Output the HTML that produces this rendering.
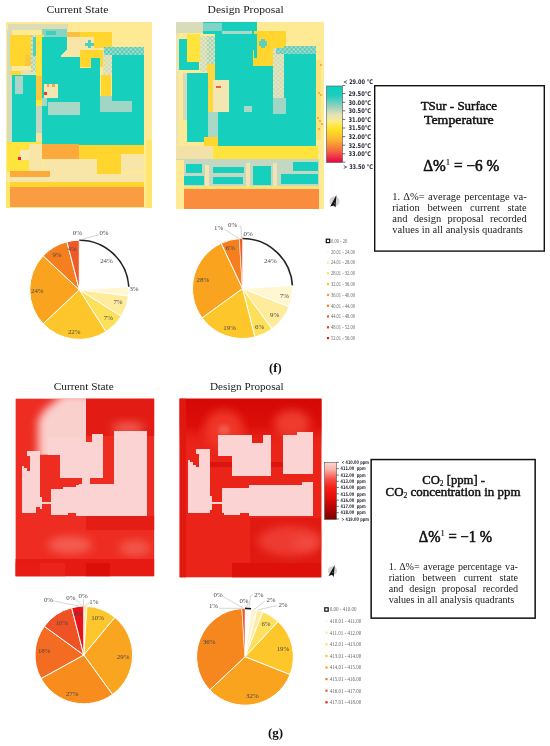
<!DOCTYPE html>
<html><head><meta charset="utf-8"><title>Figure</title><style>
html,body{margin:0;padding:0;background:#fff;}
body{width:550px;height:746px;overflow:hidden;position:relative;}
svg{position:absolute;left:0;top:0;display:block;}
.ttl{font-family:"Liberation Serif",serif;font-size:11px;fill:#1a1a1a;}
.lab{font-family:"Liberation Serif",serif;font-size:12px;font-weight:bold;fill:#111;}
.bt{font-family:"Liberation Serif",serif;font-size:12.6px;font-weight:normal;fill:#111;stroke:#111;stroke-width:0.45px;}
.dl{font-family:"Liberation Serif",serif;font-size:15.8px;font-weight:normal;fill:#111;stroke:#111;stroke-width:0.55px;}
.sup{font-size:9px;font-weight:normal;stroke-width:0.15px;}
.sub{font-size:7.5px;stroke-width:0.15px;}
.fn{position:absolute;font-family:"Liberation Serif",serif;color:#222;white-space:nowrap;}
.fn .j{text-align:justify;text-align-last:justify;white-space:normal;}
.fn .l{text-align:left;}
.cbl{font-family:"DejaVu Sans Condensed","DejaVu Sans",sans-serif;font-size:6.4px;font-weight:bold;fill:#2a2a3a;}
.cbl2{font-family:"DejaVu Sans Condensed","DejaVu Sans",sans-serif;font-size:4.9px;font-weight:bold;fill:#2a2a3a;}
.pl{font-family:"Liberation Serif",serif;font-size:6.9px;fill:#484848;}
.lg{font-family:"Liberation Serif",serif;font-size:5.2px;fill:#666;}
</style></head>
<body>
<svg width="550" height="746" viewBox="0 0 550 746">
<defs><filter id="soft" x="0" y="0" width="100%" height="100%"><feGaussianBlur stdDeviation="0.45"/></filter><pattern id="chkA" patternUnits="userSpaceOnUse" width="4.4" height="4.4"><rect width="4.4" height="4.4" fill="#f2e6b2"/><rect width="2.2" height="2.2" fill="#8fd3c2"/><rect x="2.2" y="2.2" width="2.2" height="2.2" fill="#8fd3c2"/></pattern>
<pattern id="chkB" patternUnits="userSpaceOnUse" width="4.4" height="4.4"><rect width="4.4" height="4.4" fill="#b6d8c6"/><rect width="2.2" height="2.2" fill="#3fcfbe"/><rect x="2.2" y="2.2" width="2.2" height="2.2" fill="#3fcfbe"/></pattern>
<pattern id="chkC" patternUnits="userSpaceOnUse" width="4.4" height="4.4"><rect width="4.4" height="4.4" fill="#f4e7b0"/><rect width="2.2" height="2.2" fill="#c2d9c4"/><rect x="2.2" y="2.2" width="2.2" height="2.2" fill="#c2d9c4"/></pattern><linearGradient id="cb1" x1="0" y1="0" x2="0" y2="1">
<stop offset="0" stop-color="#10cfbd"/><stop offset="0.12" stop-color="#1acdbd"/>
<stop offset="0.26" stop-color="#90d0c0"/><stop offset="0.38" stop-color="#e6e3b6"/>
<stop offset="0.46" stop-color="#fbeb8a"/><stop offset="0.55" stop-color="#ffe626"/>
<stop offset="0.7" stop-color="#fcb630"/><stop offset="0.85" stop-color="#f56840"/>
<stop offset="1" stop-color="#e8004a"/></linearGradient><linearGradient id="cb2" x1="0" y1="0" x2="0" y2="1">
<stop offset="0" stop-color="#fcd6d2"/><stop offset="0.12" stop-color="#fab4ac"/>
<stop offset="0.3" stop-color="#f84a3e"/><stop offset="0.45" stop-color="#f61c14"/>
<stop offset="0.62" stop-color="#e20c08"/><stop offset="0.8" stop-color="#b40404"/><stop offset="1" stop-color="#780000"/></linearGradient><filter id="bl4" x="-50%" y="-50%" width="200%" height="200%"><feGaussianBlur stdDeviation="4"/></filter><filter id="bl6" x="-50%" y="-50%" width="200%" height="200%"><feGaussianBlur stdDeviation="6"/></filter><filter id="bl2" x="-50%" y="-50%" width="200%" height="200%"><feGaussianBlur stdDeviation="2"/></filter><clipPath id="cm3"><rect x="15.4" y="398.4" width="139" height="178"/></clipPath><clipPath id="cm3a"><rect x="15.4" y="398.4" width="70.6" height="56.3"/></clipPath><clipPath id="cm4"><rect x="179.4" y="398.4" width="142.3" height="179.2"/></clipPath><linearGradient id="g4top" x1="0" y1="0" x2="0" y2="1"><stop offset="0" stop-color="#d60806"/><stop offset="0.55" stop-color="#dc0e0a"/><stop offset="1" stop-color="#ea2419" stop-opacity="0"/></linearGradient></defs>
<g filter="url(#soft)"><g shape-rendering="crispEdges"><rect x="6" y="22" width="146" height="186" fill="#feea95"/><rect x="8" y="23.5" width="60" height="6.5" fill="#dedcb4"/><rect x="6.5" y="30" width="5.5" height="115" fill="#d3dcc0"/><rect x="42" y="29" width="25" height="8" fill="#86d4c2"/><rect x="46" y="31" width="10" height="4" fill="#3fcebe"/><rect x="9.5" y="34.5" width="23.5" height="31.5" fill="#ffd52e"/><rect x="25" y="55" width="8" height="11" fill="#fcc640"/><rect x="9.5" y="71" width="11.5" height="3.5" fill="#ffd52e"/><rect x="21" y="70" width="15" height="5" fill="#ece0ac"/><rect x="30.5" y="35" width="5.1" height="37" fill="url(#chkA)"/><rect x="32.5" y="37" width="3.1" height="19" fill="#52cfbe"/><rect x="35.6" y="35" width="8.0" height="71" fill="#ffe43e"/><rect x="35.6" y="76" width="8.0" height="23.5" fill="#fcc63e"/><rect x="36.4" y="106" width="10.1" height="27" fill="#c0d8c2"/><rect x="36.4" y="133" width="10.1" height="10" fill="#f2e2a8"/><polygon points="42.2,37 67,37 67,49 63,53 60,57.3 42.2,57.3" fill="#12cfbd"/><rect x="67" y="31.8" width="45.4" height="4.9" fill="#ffd52e"/><rect x="67" y="31.8" width="13" height="4.9" fill="#fcc040"/><rect x="94.4" y="31.8" width="18.0" height="16.4" fill="#ffd52e"/><polygon points="67,36.7 94.4,36.7 94.4,52.3 79.6,52.3 79.6,57.3 60,57.3 63,53 67,49" fill="#f8e6a8"/><rect x="84.5" y="42.5" width="9.0" height="3.0" fill="#4fcfbd"/><rect x="87.5" y="40" width="3.0" height="8.2" fill="#4fcfbd"/><rect x="79.6" y="50" width="22.9" height="17" fill="#ffd52e"/><rect x="42.2" y="57.3" width="37.4" height="87.7" fill="#12cfbd"/><rect x="79.6" y="67.8" width="11.4" height="77.2" fill="#12cfbd"/><rect x="91" y="58" width="9" height="87" fill="#12cfbd"/><rect x="100" y="101" width="44" height="44" fill="#12cfbd"/><rect x="43.6" y="83.5" width="14.4" height="14.5" fill="#f4e6b0"/><rect x="43.6" y="92.2" width="2.9" height="2.8" fill="#ee3a30"/><rect x="46.5" y="84" width="2.5" height="2.5" fill="#f8a83c"/><rect x="52" y="84" width="2.5" height="2.5" fill="#f8a83c"/><rect x="42.2" y="98" width="4.3" height="8" fill="#a6d6c6"/><rect x="48" y="102" width="32" height="13" fill="#a8d8c8"/><rect x="102.5" y="46.5" width="9.9" height="28.5" fill="url(#chkC)"/><rect x="101" y="75" width="10" height="21" fill="#ffd52e"/><rect x="100" y="96" width="32" height="16" fill="#9fd6c6"/><rect x="104" y="46.5" width="40" height="8.2" fill="url(#chkB)"/><rect x="111.5" y="54.7" width="32.0" height="46.3" fill="#12cfbd"/><rect x="12.4" y="74.7" width="24.0" height="66.8" fill="#12cfbd"/><rect x="14.5" y="76" width="8.5" height="18" fill="#a9d6c6"/><rect x="6.5" y="141.5" width="35.5" height="30.5" fill="#ffe43e"/><rect x="29" y="143.6" width="13" height="28.4" fill="#f8e6a8"/><rect x="20" y="150" width="9" height="10" fill="#f8eab4"/><rect x="18.2" y="156.7" width="2.8" height="2.9" fill="#ee2040"/><rect x="42" y="143.6" width="37" height="15.4" fill="#fbaa3a"/><rect x="79" y="145" width="67" height="15" fill="#ffd52e"/><rect x="121" y="154" width="24" height="17" fill="#f8e6a8"/><rect x="44" y="159" width="53" height="12" fill="#f8e6a8"/><rect x="97" y="160" width="24" height="14" fill="#ffd52e"/><rect x="10" y="171" width="40" height="6" fill="#fbaa3a"/><rect x="50" y="171" width="47" height="6" fill="#f8e6a8"/><rect x="10" y="177" width="140" height="5" fill="#f6e6ae"/><rect x="97" y="174" width="49" height="8" fill="#f8e6a8"/><rect x="10" y="182" width="136.4" height="5" fill="#ffd52e"/><rect x="10" y="187" width="136.4" height="20" fill="#fa9c42"/><rect x="143.5" y="30" width="8.5" height="178" fill="#feea95"/><rect x="146.4" y="140" width="5.6" height="68" fill="#fee66a"/><rect x="6" y="182" width="4" height="26" fill="#fee66a"/></g></g>
<g filter="url(#soft)"><g shape-rendering="crispEdges"><rect x="176" y="22" width="148" height="187" fill="#feea95"/><rect x="176" y="22" width="29" height="11" fill="#d9dcb8"/><rect x="203" y="22" width="54" height="12" fill="#12cfbd"/><rect x="203" y="22.7" width="19" height="8.3" fill="#7fd4c4"/><rect x="222" y="31" width="30" height="4.5" fill="#a8d8c8"/><rect x="215" y="34" width="39" height="112" fill="#12cfbd"/><rect x="179" y="39" width="8" height="27" fill="#12cfbd"/><rect x="179" y="61" width="20" height="9" fill="#12cfbd"/><rect x="187" y="34" width="13" height="28" fill="#ffe43e"/><rect x="200" y="36" width="7" height="36" fill="url(#chkC)"/><rect x="207" y="36" width="8" height="37" fill="url(#chkA)"/><rect x="207" y="64" width="8" height="48" fill="#ffd840"/><rect x="176" y="33" width="3" height="112" fill="#efe3b0"/><rect x="187" y="73" width="21" height="69" fill="#12cfbd"/><rect x="183" y="73" width="4" height="47" fill="#d0dcc0"/><rect x="213" y="80" width="16" height="32" fill="#f4e6b0"/><rect x="216" y="85.5" width="5" height="2.5" fill="#f0603a"/><rect x="208" y="112" width="46" height="34" fill="#12cfbd"/><rect x="208" y="112" width="10" height="26" fill="#a8d8c6"/><rect x="204" y="137" width="14" height="9" fill="#ffd52e"/><rect x="244" y="106" width="8" height="6" fill="#a8d8c6"/><rect x="262" y="106" width="12" height="5" fill="#a8d8c6"/><rect x="257" y="22" width="67" height="9" fill="#feea95"/><rect x="254" y="31" width="32" height="19" fill="#ffd52e"/><rect x="259" y="41" width="8" height="5" fill="#5fcfbd"/><rect x="261" y="39" width="4" height="9" fill="#5fcfbd"/><rect x="253" y="50" width="20" height="16" fill="#ffd52e"/><rect x="254" y="34" width="3" height="24" fill="#12cfbd"/><rect x="253" y="66" width="21" height="80" fill="#12cfbd"/><rect x="273" y="48" width="11" height="50" fill="url(#chkC)"/><rect x="276" y="48" width="8" height="6" fill="url(#chkB)"/><rect x="284" y="46" width="32" height="8" fill="url(#chkB)"/><rect x="284" y="54" width="32" height="92" fill="#12cfbd"/><rect x="273" y="98" width="13" height="16" fill="#9fd6c6"/><rect x="273" y="114" width="11" height="32" fill="#12cfbd"/><rect x="176" y="146" width="37" height="14" fill="#f3e2a8"/><rect x="213" y="146" width="105" height="14" fill="#ffe43e"/><rect x="176" y="159" width="146" height="30" fill="#c3d7c3"/><rect x="205" y="165" width="3.5" height="24" fill="#f4e6b0"/><rect x="246" y="163" width="4" height="26" fill="#f0e4b0"/><rect x="273" y="163" width="4" height="26" fill="#f0e4b0"/><rect x="184" y="186" width="135" height="3" fill="#f8e27a"/><rect x="186" y="164" width="16" height="8.7" fill="#12cfbd"/><rect x="184" y="176" width="20" height="9" fill="#12cfbd"/><rect x="213" y="167" width="31" height="5.7" fill="#12cfbd"/><rect x="213" y="176.8" width="30" height="6.8" fill="#12cfbd"/><rect x="253" y="166" width="18" height="19" fill="#12cfbd"/><rect x="293" y="161.8" width="25" height="9.6" fill="#12cfbd"/><rect x="281" y="174" width="37" height="9.6" fill="#12cfbd"/><rect x="184" y="189" width="135" height="20" fill="#f98c3c"/><rect x="176" y="160" width="8" height="49" fill="#feea95"/><rect x="319" y="30" width="5" height="179" fill="#feea95"/><rect x="316" y="60" width="5" height="80" fill="#fde27a"/><rect x="318" y="92" width="2" height="2" fill="#f8b048"/><rect x="320" y="94" width="2" height="2" fill="#f8b048"/><rect x="317" y="117" width="2" height="2" fill="#f8b048"/><rect x="319" y="120" width="2" height="2" fill="#f8b048"/><rect x="321" y="123" width="2" height="2" fill="#f8b048"/><rect x="318" y="128" width="2" height="2" fill="#f8b048"/><rect x="320" y="64" width="2" height="2" fill="#f8b048"/></g></g>
<rect x="326.5" y="86" width="16" height="76.5" fill="url(#cb1)" stroke="#555" stroke-width="0.6"/>
<rect x="324.5" y="462.5" width="12" height="57" fill="url(#cb2)" stroke="#555" stroke-width="0.6"/>
<g stroke="#333" stroke-width="0.7">
<line x1="342.5" y1="85.5" x2="345.3" y2="85.5"/>
<line x1="342.5" y1="93.6" x2="345.3" y2="93.6"/>
<line x1="342.5" y1="102.3" x2="345.3" y2="102.3"/>
<line x1="342.5" y1="110.8" x2="345.3" y2="110.8"/>
<line x1="342.5" y1="119.4" x2="345.3" y2="119.4"/>
<line x1="342.5" y1="128.0" x2="345.3" y2="128.0"/>
<line x1="342.5" y1="136.6" x2="345.3" y2="136.6"/>
<line x1="342.5" y1="145.2" x2="345.3" y2="145.2"/>
<line x1="342.5" y1="153.8" x2="345.3" y2="153.8"/>
<line x1="342.5" y1="162.2" x2="345.3" y2="162.2"/>
<line x1="336.5" y1="462.3" x2="338.8" y2="462.3"/>
<line x1="336.5" y1="468.7" x2="338.8" y2="468.7"/>
<line x1="336.5" y1="475.1" x2="338.8" y2="475.1"/>
<line x1="336.5" y1="481.3" x2="338.8" y2="481.3"/>
<line x1="336.5" y1="487.5" x2="338.8" y2="487.5"/>
<line x1="336.5" y1="493.8" x2="338.8" y2="493.8"/>
<line x1="336.5" y1="500.1" x2="338.8" y2="500.1"/>
<line x1="336.5" y1="506.4" x2="338.8" y2="506.4"/>
<line x1="336.5" y1="512.7" x2="338.8" y2="512.7"/>
<line x1="336.5" y1="519.0" x2="338.8" y2="519.0"/>
</g>
<text x="343.2" y="83.8" class="cbl" textLength="29.7" lengthAdjust="spacingAndGlyphs">&lt; 29.00 °C</text>
<text x="348.5" y="95.89999999999999" class="cbl" textLength="22.6" lengthAdjust="spacingAndGlyphs">29.50°C</text>
<text x="348.5" y="104.7" class="cbl" textLength="22.6" lengthAdjust="spacingAndGlyphs">30.00°C</text>
<text x="348.5" y="113.1" class="cbl" textLength="22.6" lengthAdjust="spacingAndGlyphs">30.50°C</text>
<text x="348.5" y="121.8" class="cbl" textLength="22.6" lengthAdjust="spacingAndGlyphs">31.00°C</text>
<text x="348.5" y="130.4" class="cbl" textLength="22.6" lengthAdjust="spacingAndGlyphs">31.50°C</text>
<text x="348.5" y="139.0" class="cbl" textLength="22.6" lengthAdjust="spacingAndGlyphs">32.00°C</text>
<text x="348.5" y="147.60000000000002" class="cbl" textLength="22.6" lengthAdjust="spacingAndGlyphs">32.50°C</text>
<text x="348.5" y="156.20000000000002" class="cbl" textLength="22.6" lengthAdjust="spacingAndGlyphs">33.00°C</text>
<text x="343.2" y="168.60000000000002" class="cbl" textLength="29.7" lengthAdjust="spacingAndGlyphs">&gt; 33.50 °C</text>
<text x="341.4" y="463.95" class="cbl2" textLength="27.4" lengthAdjust="spacingAndGlyphs" xml:space="preserve">&lt; 410.00 ppm</text>
<text x="340.6" y="470.45" class="cbl2" textLength="25" lengthAdjust="spacingAndGlyphs" xml:space="preserve">411.00  ppm</text>
<text x="340.6" y="476.85" class="cbl2" textLength="25" lengthAdjust="spacingAndGlyphs" xml:space="preserve">412.00  ppm</text>
<text x="340.6" y="483.05" class="cbl2" textLength="25" lengthAdjust="spacingAndGlyphs" xml:space="preserve">413.00  ppm</text>
<text x="340.6" y="489.25" class="cbl2" textLength="25" lengthAdjust="spacingAndGlyphs" xml:space="preserve">414.00  ppm</text>
<text x="340.6" y="495.55" class="cbl2" textLength="25" lengthAdjust="spacingAndGlyphs" xml:space="preserve">415.00  ppm</text>
<text x="340.6" y="501.85" class="cbl2" textLength="25" lengthAdjust="spacingAndGlyphs" xml:space="preserve">416.00  ppm</text>
<text x="340.6" y="508.15" class="cbl2" textLength="25" lengthAdjust="spacingAndGlyphs" xml:space="preserve">417.00  ppm</text>
<text x="340.6" y="514.45" class="cbl2" textLength="25" lengthAdjust="spacingAndGlyphs" xml:space="preserve">418.00  ppm</text>
<text x="341.4" y="520.95" class="cbl2" textLength="27.4" lengthAdjust="spacingAndGlyphs" xml:space="preserve">&gt; 419.00 ppm</text>
<circle cx="334.5" cy="201.4" r="5.0" fill="#c4c4c4" opacity="0.75"/><polygon points="336.4,195.1 330.2,206.4 333.8,205.4 335.5,207.6" fill="#111"/><circle cx="334.6" cy="203.2" r="0.5" fill="#999"/>
<circle cx="332.5" cy="570.8" r="4.6" fill="#c4c4c4" opacity="0.75"/><polygon points="334.7,564.9 328.5,575.9 332.1,574.8 333.7,577.1" fill="#111"/><circle cx="332.8" cy="572.3" r="0.5" fill="#999"/>
<path d="M79.3,289.8 L79.30,240.20 A49.6,49.6 0 0 1 128.80,286.69 Z" fill="#ffffff" stroke="#fff" stroke-width="1.0"/><path d="M79.3,289.8 L128.80,286.69 A49.6,49.6 0 0 1 128.51,296.02 Z" fill="#fff6d2" stroke="#fff" stroke-width="1.0"/><path d="M79.3,289.8 L128.51,296.02 A49.6,49.6 0 0 1 121.18,316.38 Z" fill="#ffeb9c" stroke="#fff" stroke-width="1.0"/><path d="M79.3,289.8 L121.18,316.38 A49.6,49.6 0 0 1 105.88,331.68 Z" fill="#fde05a" stroke="#fff" stroke-width="1.0"/><path d="M79.3,289.8 L105.88,331.68 A49.6,49.6 0 0 1 43.14,323.75 Z" fill="#fdc62a" stroke="#fff" stroke-width="1.0"/><path d="M79.3,289.8 L43.14,323.75 A49.6,49.6 0 0 1 43.14,255.85 Z" fill="#f9a31e" stroke="#fff" stroke-width="1.0"/><path d="M79.3,289.8 L43.14,255.85 A49.6,49.6 0 0 1 66.96,241.76 Z" fill="#f57f1f" stroke="#fff" stroke-width="1.0"/><path d="M79.3,289.8 L66.96,241.76 A49.6,49.6 0 0 1 79.30,240.20 Z" fill="#f05a26" stroke="#fff" stroke-width="1.0"/>
<path d="M79.30,240.20 A49.6,49.6 0 0 1 128.80,286.69" fill="none" stroke="#222" stroke-width="1.6"/>
<path d="M242.5,288.5 L242.50,238.50 A50,50 0 0 1 292.40,285.36 Z" fill="#ffffff" stroke="#fff" stroke-width="1.0"/><path d="M242.5,288.5 L292.40,285.36 A50,50 0 0 1 288.99,306.91 Z" fill="#fff6d2" stroke="#fff" stroke-width="1.0"/><path d="M242.5,288.5 L288.99,306.91 A50,50 0 0 1 271.89,328.95 Z" fill="#ffeb9c" stroke="#fff" stroke-width="1.0"/><path d="M242.5,288.5 L271.89,328.95 A50,50 0 0 1 254.93,336.93 Z" fill="#fde05a" stroke="#fff" stroke-width="1.0"/><path d="M242.5,288.5 L254.93,336.93 A50,50 0 0 1 202.05,317.89 Z" fill="#fdc62a" stroke="#fff" stroke-width="1.0"/><path d="M242.5,288.5 L202.05,317.89 A50,50 0 0 1 221.21,243.26 Z" fill="#f9a31e" stroke="#fff" stroke-width="1.0"/><path d="M242.5,288.5 L221.21,243.26 A50,50 0 0 1 239.36,238.60 Z" fill="#f57f1f" stroke="#fff" stroke-width="1.0"/><path d="M242.5,288.5 L239.36,238.60 A50,50 0 0 1 242.50,238.50 Z" fill="#f05a26" stroke="#fff" stroke-width="0.5"/>
<path d="M242.50,238.50 A50,50 0 0 1 292.40,285.36" fill="none" stroke="#222" stroke-width="1.6"/>
<path d="M83.8,655 L83.80,606.20 A48.8,48.8 0 0 1 86.86,606.30 Z" fill="#fde58a" stroke="#fff" stroke-width="0.5"/><path d="M83.8,655 L86.86,606.30 A48.8,48.8 0 0 1 114.91,617.40 Z" fill="#fdc62c" stroke="#fff" stroke-width="1.0"/><path d="M83.8,655 L114.91,617.40 A48.8,48.8 0 0 1 112.48,694.48 Z" fill="#faa51f" stroke="#fff" stroke-width="1.0"/><path d="M83.8,655 L112.48,694.48 A48.8,48.8 0 0 1 41.04,678.51 Z" fill="#f88d1e" stroke="#fff" stroke-width="1.0"/><path d="M83.8,655 L41.04,678.51 A48.8,48.8 0 0 1 44.32,626.32 Z" fill="#f36c21" stroke="#fff" stroke-width="1.0"/><path d="M83.8,655 L44.32,626.32 A48.8,48.8 0 0 1 71.66,607.73 Z" fill="#ef5224" stroke="#fff" stroke-width="1.0"/><path d="M83.8,655 L71.66,607.73 A48.8,48.8 0 0 1 83.80,606.20 Z" fill="#e8141b" stroke="#fff" stroke-width="1.0"/>
<path d="M245,656.8 L245.00,608.40 A48.4,48.4 0 0 1 251.07,608.78 Z" fill="#ffffff" stroke="#fff" stroke-width="1.0"/><path d="M245,656.8 L251.07,608.78 A48.4,48.4 0 0 1 257.04,609.92 Z" fill="#fff4cf" stroke="#fff" stroke-width="1.0"/><path d="M245,656.8 L257.04,609.92 A48.4,48.4 0 0 1 262.82,611.80 Z" fill="#ffeaa6" stroke="#fff" stroke-width="1.0"/><path d="M245,656.8 L262.82,611.80 A48.4,48.4 0 0 1 278.13,621.52 Z" fill="#fde05e" stroke="#fff" stroke-width="1.0"/><path d="M245,656.8 L278.13,621.52 A48.4,48.4 0 0 1 290.00,674.62 Z" fill="#fdc62a" stroke="#fff" stroke-width="1.0"/><path d="M245,656.8 L290.00,674.62 A48.4,48.4 0 0 1 209.72,689.93 Z" fill="#faa31e" stroke="#fff" stroke-width="1.0"/><path d="M245,656.8 L209.72,689.93 A48.4,48.4 0 0 1 241.96,608.50 Z" fill="#f6861e" stroke="#fff" stroke-width="1.0"/><path d="M245,656.8 L241.96,608.50 A48.4,48.4 0 0 1 245.00,608.40 Z" fill="#ef5224" stroke="#fff" stroke-width="0.5"/>
<path d="M245.00,608.40 A48.4,48.4 0 0 1 251.07,608.78" fill="none" stroke="#111" stroke-width="1.6"/>
<text x="77.3" y="235.2" class="pl" text-anchor="middle">0%</text>
<text x="104" y="235.2" class="pl" text-anchor="middle">0%</text>
<text x="72.2" y="250.5" class="pl" text-anchor="middle">4%</text>
<text x="106.5" y="263.2" class="pl" text-anchor="middle">24%</text>
<text x="57" y="256.9" class="pl" text-anchor="middle">9%</text>
<text x="37.3" y="293.3" class="pl" text-anchor="middle">24%</text>
<text x="134" y="291.2" class="pl" text-anchor="middle">3%</text>
<text x="118" y="303.9" class="pl" text-anchor="middle">7%</text>
<text x="108.3" y="320.0" class="pl" text-anchor="middle">7%</text>
<text x="74.2" y="334.0" class="pl" text-anchor="middle">22%</text>
<text x="232.7" y="226.9" class="pl" text-anchor="middle">0%</text>
<text x="218.7" y="229.7" class="pl" text-anchor="middle">1%</text>
<text x="248.2" y="236.1" class="pl" text-anchor="middle">0%</text>
<text x="270.4" y="263.3" class="pl" text-anchor="middle">24%</text>
<text x="284.4" y="298.2" class="pl" text-anchor="middle">7%</text>
<text x="274.7" y="316.8" class="pl" text-anchor="middle">9%</text>
<text x="259.7" y="328.7" class="pl" text-anchor="middle">6%</text>
<text x="229.6" y="329.5" class="pl" text-anchor="middle">19%</text>
<text x="202.9" y="281.9" class="pl" text-anchor="middle">28%</text>
<text x="230.4" y="250.1" class="pl" text-anchor="middle">6%</text>
<text x="48.5" y="602.3" class="pl" text-anchor="middle">0%</text>
<text x="70.9" y="599.7" class="pl" text-anchor="middle">0%</text>
<text x="83.1" y="598.2" class="pl" text-anchor="middle">0%</text>
<text x="93.8" y="604.0" class="pl" text-anchor="middle">1%</text>
<text x="97.6" y="620.1" class="pl" text-anchor="middle">10%</text>
<text x="123.1" y="658.8" class="pl" text-anchor="middle">29%</text>
<text x="72.2" y="696.4" class="pl" text-anchor="middle">27%</text>
<text x="44.2" y="653.2" class="pl" text-anchor="middle">18%</text>
<text x="62" y="625.2" class="pl" text-anchor="middle">10%</text>
<text x="78" y="616.0" class="pl" text-anchor="middle">4%</text>
<text x="218.1" y="597.0" class="pl" text-anchor="middle">0%</text>
<text x="258.8" y="596.5" class="pl" text-anchor="middle">2%</text>
<text x="213.5" y="608.0" class="pl" text-anchor="middle">1%</text>
<text x="244" y="602.9" class="pl" text-anchor="middle">0%</text>
<text x="271" y="602.4" class="pl" text-anchor="middle">2%</text>
<text x="283" y="607.2" class="pl" text-anchor="middle">2%</text>
<text x="266" y="625.8" class="pl" text-anchor="middle">6%</text>
<text x="283" y="651.2" class="pl" text-anchor="middle">19%</text>
<text x="252.4" y="697.5" class="pl" text-anchor="middle">32%</text>
<text x="209.2" y="644.3" class="pl" text-anchor="middle">36%</text>
<g stroke="#b4b4b4" stroke-width="0.55" fill="none">
<polyline points="79.5,240 98.9,234.8"/>
<polyline points="238.8,225.9 241,226.4 241.5,238"/>
<polyline points="224.6,229.2 238.3,238"/>
<polyline points="242.5,238.5 244,233.6"/>
<polyline points="83.6,607 53,600.8"/>
<polyline points="83.6,607 75.5,599"/>
<polyline points="83.6,607 83.3,599"/>
<polyline points="84.2,607 89.5,602.3"/>
<polyline points="223,596.5 243,608"/>
<polyline points="219,608.3 242,608.3"/>
<polyline points="248.5,603 246,608"/>
<polyline points="252.5,594.8 250.5,596 249,608"/>
<polyline points="264.8,601.4 254,609.5"/>
<polyline points="277,605.5 257.5,610"/>
</g>
<rect x="326.3" y="239.20000000000002" width="3.4" height="3.4" fill="#fff" stroke="#111" stroke-width="1.2"/><text x="331" y="242.70000000000002" class="lg" textLength="16.3" lengthAdjust="spacingAndGlyphs">0.00 - 20</text><rect x="326.9" y="250.60000000000002" width="2.2" height="2.2" fill="#fff6d2"/><text x="331" y="253.50000000000003" class="lg" textLength="24" lengthAdjust="spacingAndGlyphs">20.01 - 24.00</text><rect x="326.9" y="261.4" width="2.2" height="2.2" fill="#ffeb9c"/><text x="331" y="264.3" class="lg" textLength="24" lengthAdjust="spacingAndGlyphs">24.01 - 28.00</text><rect x="326.9" y="272.2" width="2.2" height="2.2" fill="#fde05a"/><text x="331" y="275.1" class="lg" textLength="24" lengthAdjust="spacingAndGlyphs">28.01 - 32.00</text><rect x="326.9" y="283.0" width="2.2" height="2.2" fill="#fdc62a"/><text x="331" y="285.90000000000003" class="lg" textLength="24" lengthAdjust="spacingAndGlyphs">32.01 - 36.00</text><rect x="326.9" y="293.79999999999995" width="2.2" height="2.2" fill="#f9a31e"/><text x="331" y="296.7" class="lg" textLength="24" lengthAdjust="spacingAndGlyphs">36.01 - 40.00</text><rect x="326.9" y="304.6" width="2.2" height="2.2" fill="#f57f1f"/><text x="331" y="307.50000000000006" class="lg" textLength="24" lengthAdjust="spacingAndGlyphs">40.01 - 44.00</text><rect x="326.9" y="315.4" width="2.2" height="2.2" fill="#f05a26"/><text x="331" y="318.3" class="lg" textLength="24" lengthAdjust="spacingAndGlyphs">44.01 - 48.00</text><rect x="326.9" y="326.2" width="2.2" height="2.2" fill="#ea3a20"/><text x="331" y="329.1" class="lg" textLength="24" lengthAdjust="spacingAndGlyphs">48.01 - 52.00</text><rect x="326.9" y="337.0" width="2.2" height="2.2" fill="#e8171b"/><text x="331" y="339.90000000000003" class="lg" textLength="24" lengthAdjust="spacingAndGlyphs">52.01 - 56.00</text>
<rect x="324.8" y="607.8" width="3.4" height="3.4" fill="#fff" stroke="#111" stroke-width="1.2"/><text x="329.8" y="611.3" class="lg" textLength="26.7" lengthAdjust="spacingAndGlyphs">0.00 - 410.00</text><rect x="325.4" y="620.0" width="2.2" height="2.2" fill="#fff6d2"/><text x="329.8" y="622.9" class="lg" textLength="31.4" lengthAdjust="spacingAndGlyphs">410.01 - 411.00</text><rect x="325.4" y="631.6" width="2.2" height="2.2" fill="#ffeb9c"/><text x="329.8" y="634.5" class="lg" textLength="31.4" lengthAdjust="spacingAndGlyphs">411.01 - 412.00</text><rect x="325.4" y="643.1999999999999" width="2.2" height="2.2" fill="#fde05a"/><text x="329.8" y="646.0999999999999" class="lg" textLength="31.4" lengthAdjust="spacingAndGlyphs">412.01 - 413.00</text><rect x="325.4" y="654.8" width="2.2" height="2.2" fill="#fdc62a"/><text x="329.8" y="657.6999999999999" class="lg" textLength="31.4" lengthAdjust="spacingAndGlyphs">413.01 - 414.00</text><rect x="325.4" y="666.4" width="2.2" height="2.2" fill="#f9a31e"/><text x="329.8" y="669.3" class="lg" textLength="31.4" lengthAdjust="spacingAndGlyphs">414.01 - 415.00</text><rect x="325.4" y="678.0" width="2.2" height="2.2" fill="#f57f1f"/><text x="329.8" y="680.9" class="lg" textLength="31.4" lengthAdjust="spacingAndGlyphs">415.01 - 416.00</text><rect x="325.4" y="689.6" width="2.2" height="2.2" fill="#f05a26"/><text x="329.8" y="692.5" class="lg" textLength="31.4" lengthAdjust="spacingAndGlyphs">416.01 - 417.00</text><rect x="325.4" y="701.1999999999999" width="2.2" height="2.2" fill="#e8171b"/><text x="329.8" y="704.0999999999999" class="lg" textLength="31.4" lengthAdjust="spacingAndGlyphs">417.01 - 418.00</text>
<g clip-path="url(#cm3)"><rect x="15.4" y="398.4" width="139.0" height="178.0" fill="#ee2c22"/><rect x="86" y="398.4" width="68.4" height="37.6" fill="#e21c14"/><g clip-path="url(#cm3a)"><polygon points="62,394 100,394 100,470 38,470 38,420 44,410 54,402" fill="#fad0cd" filter="url(#bl4)"/></g><ellipse cx="128" cy="428" rx="16" ry="6" fill="#f25a50" filter="url(#bl4)"/><ellipse cx="70" cy="545" rx="22" ry="9" fill="#f45c50" filter="url(#bl4)"/><ellipse cx="135" cy="548" rx="16" ry="8" fill="#f35448" filter="url(#bl4)"/><rect x="86" y="516" width="68.4" height="14" fill="#e41e16"/><rect x="15.4" y="559" width="139.0" height="17.4" fill="#e61a12"/><rect x="15.4" y="563" width="24.6" height="13.4" fill="#e81c14"/><rect x="40" y="563" width="25" height="13.4" fill="#ea2418"/><rect x="86" y="563" width="24" height="13.4" fill="#dc0e0a"/><g shape-rendering="crispEdges"><rect x="41.8" y="502" width="9.1" height="2.3" fill="#fcd3d3"/><rect x="47.8" y="437" width="11.8" height="17.7" fill="#fcd3d3"/><rect x="59.6" y="437" width="21.9" height="41" fill="#fcd3d3"/><rect x="81.5" y="442.4" width="10.9" height="35.6" fill="#fcd3d3"/><rect x="92.4" y="434.4" width="10.1" height="43.6" fill="#fcd3d3"/><rect x="81.5" y="478" width="8.7" height="7.3" fill="#fcd3d3"/><rect x="114.2" y="431" width="32.5" height="85" fill="#fcd3d3"/><rect x="50.9" y="488.9" width="12.4" height="26.1" fill="#fcd3d3"/><rect x="63.3" y="486.7" width="5.1" height="28.3" fill="#fcd3d3"/><rect x="68.4" y="486.7" width="10.1" height="26.3" fill="#fcd3d3"/><rect x="76.4" y="484.5" width="5.1" height="31.3" fill="#fcd3d3"/><rect x="78.5" y="483.8" width="35.7" height="32.0" fill="#fcd3d3"/><rect x="102.5" y="486.7" width="11.7" height="29.1" fill="#fcd3d3"/><polygon points="26.8,450.7 39.6,450.7 39.6,497.3 41.8,497.3 41.8,508.6 39.6,508.6 39.6,507 36.4,507 36.4,512.9 22,512.9 22,465.7 24.1,465.7 24.1,467.9 26.8,467.9 26.8,471 29.5,471 29.5,455.5 26.8,455.5" fill="#fcd3d3"/></g></g>
<g clip-path="url(#cm4)"><rect x="179.4" y="398.4" width="142.3" height="179.2" fill="#ea2419"/><rect x="179.4" y="398.4" width="142.3" height="50" fill="url(#g4top)"/><ellipse cx="224" cy="430" rx="20" ry="20" fill="#ee3428" filter="url(#bl4)"/><ellipse cx="292" cy="424" rx="18" ry="14" fill="#ee3a2e" filter="url(#bl4)"/><ellipse cx="224" cy="430" rx="6" ry="5" fill="#f25a4e" filter="url(#bl2)"/><rect x="179.4" y="398.4" width="6.6" height="179.2" fill="#e01810"/><rect x="209" y="462" width="23" height="5" fill="#dc1410"/><rect x="271" y="462" width="12" height="5" fill="#dc1410"/><rect x="250" y="518" width="71" height="45" fill="#e01a12"/><ellipse cx="290" cy="541" rx="32" ry="15" fill="#ee3a30" filter="url(#bl4)"/><ellipse cx="305" cy="543" rx="12" ry="7" fill="#f24a40" filter="url(#bl4)"/><rect x="232" y="563" width="89" height="14.6" fill="#de100a"/><g shape-rendering="crispEdges"><rect x="212.2" y="501.6" width="9.3" height="2.8" fill="#fcd3d3"/><rect x="218" y="435" width="34" height="21" fill="#fcd3d3"/><rect x="232" y="443" width="39" height="33" fill="#fcd3d3"/><rect x="263" y="435" width="8" height="8" fill="#fcd3d3"/><rect x="283" y="435" width="30" height="39" fill="#fcd3d3"/><rect x="297" y="432" width="16" height="3" fill="#fcd3d3"/><rect x="221.5" y="488" width="27.5" height="25" fill="#fcd3d3"/><rect x="224" y="513" width="16" height="2" fill="#fcd3d3"/><rect x="249" y="485" width="53" height="31" fill="#fcd3d3"/><rect x="302" y="482" width="11" height="34" fill="#fcd3d3"/><polygon points="196.4,449.3 209.5,449.3 209.5,496 212.2,496 212.2,510 209.5,510 209.5,512.5 187.6,512.5 187.6,460.2 190.4,460.2 190.4,462.4 193.1,462.4 193.1,465.1 196.4,465.1 196.4,467.3 199.1,467.3 199.1,454.2 196.4,454.2" fill="#fcd3d3"/></g></g>
<rect x="374.7" y="85.7" width="169.6" height="165.4" fill="none" stroke="#111" stroke-width="1.4"/>
<rect x="371.15" y="459.55" width="164" height="158.6" fill="none" stroke="#111" stroke-width="1.5"/>
<text x="46.4" y="13.3" class="ttl" textLength="62" lengthAdjust="spacingAndGlyphs">Current State</text>
<text x="207.6" y="13.3" class="ttl" textLength="76" lengthAdjust="spacingAndGlyphs">Design Proposal</text>
<text x="53.8" y="389.5" class="ttl" textLength="60" lengthAdjust="spacingAndGlyphs">Current State</text>
<text x="210" y="389.7" class="ttl" textLength="73.6" lengthAdjust="spacingAndGlyphs">Design Proposal</text>
<text x="269" y="372" class="lab" textLength="12.6" lengthAdjust="spacingAndGlyphs">(f)</text>
<text x="268" y="737.3" class="lab" textLength="15.2" lengthAdjust="spacingAndGlyphs">(g)</text>
<text x="420.7" y="110.4" class="bt" textLength="76.3" lengthAdjust="spacingAndGlyphs">TSur - Surface</text>
<text x="424" y="124.2" class="bt" textLength="69.7" lengthAdjust="spacingAndGlyphs">Temperature</text>
<text x="423.3" y="170.6" class="dl" textLength="76" lengthAdjust="spacingAndGlyphs">Δ%<tspan class="sup" dy="-5.5">1</tspan><tspan dy="5.5"> = −6 %</tspan></text>
<text x="422.3" y="484.1" class="bt" textLength="62.7" lengthAdjust="spacingAndGlyphs">CO<tspan class="sub" dy="2">2</tspan><tspan dy="-2"> [ppm] -</tspan></text>
<text x="385.5" y="495.8" class="bt" textLength="135" lengthAdjust="spacingAndGlyphs">CO<tspan class="sub" dy="2">2</tspan><tspan dy="-2"> concentration in ppm</tspan></text>
<text x="418.8" y="541.6" class="dl" textLength="73.2" lengthAdjust="spacingAndGlyphs">Δ%<tspan class="sup" dy="-5.5">1</tspan><tspan dy="5.5"> = −1 %</tspan></text>
</svg>
<div class="fn" style="left:392.3px;top:192.4px;width:134.4px;font-size:10.5px;line-height:10.95px"><div class="j">1. Δ%= average percentage va-</div><div class="j">riation between current state</div><div class="j">and design proposal recorded</div><div class="l">values in all analysis quadrants</div></div><div class="fn" style="left:388.7px;top:562.3px;width:129.3px;font-size:10.1px;line-height:10.75px"><div class="j">1. Δ%= average percentage va-</div><div class="j">riation between current state</div><div class="j">and design proposal recorded</div><div class="l">values in all analysis quadrants</div></div>
</body></html>
